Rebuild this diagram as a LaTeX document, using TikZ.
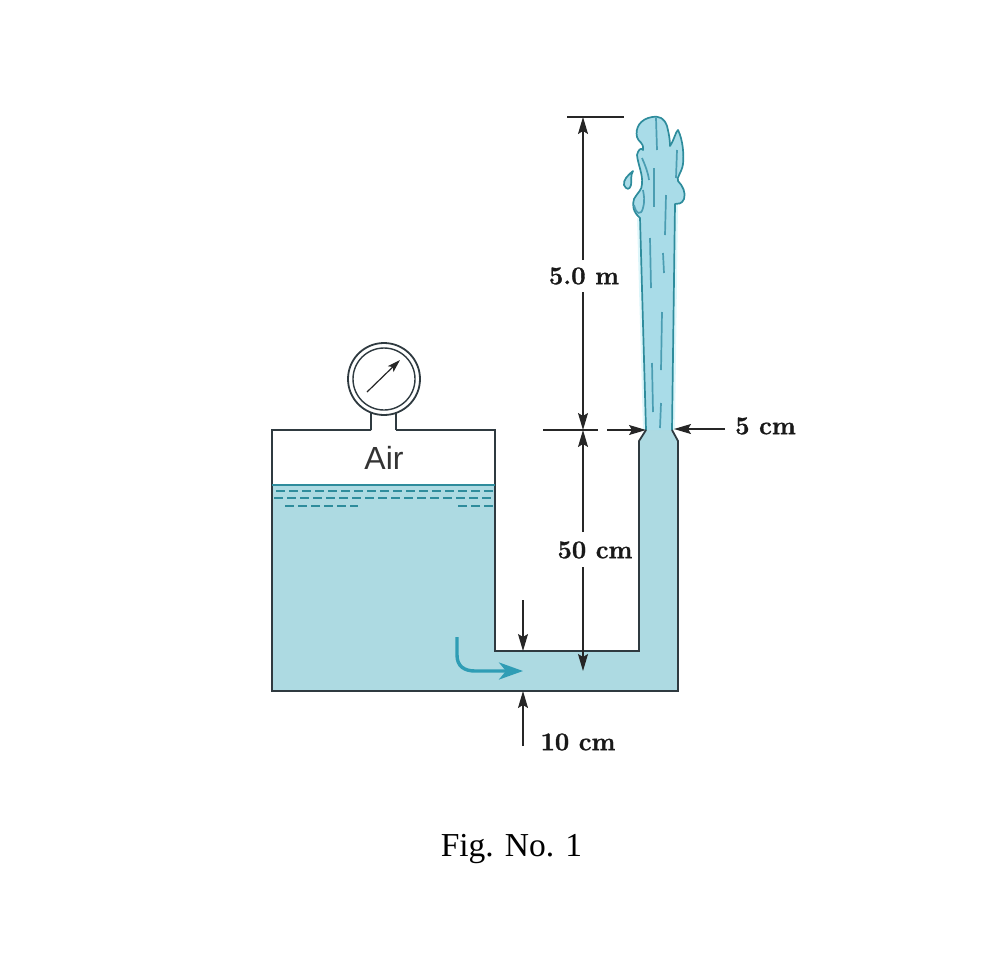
\documentclass[tikz,border=0pt]{standalone}
\usepackage{fontspec}
\newfontfamily\figfont{Liberation Serif}
\newfontfamily\airfont{Liberation Sans}
\newfontfamily\dimfont[BoldFeatures={FakeBold=1.2}]{Latin Modern Roman}
\usetikzlibrary{arrows.meta}
\definecolor{water}{HTML}{ADDAE2}
\definecolor{jetwater}{HTML}{A9DCE8}
\definecolor{jetglow}{HTML}{DDF6FA}
\definecolor{wall}{HTML}{2F3A40}
\definecolor{teal}{HTML}{2F9DB5}
\definecolor{streak}{HTML}{4A9DB2}
\definecolor{surface}{HTML}{2E8C9C}
\tikzset{
  wallline/.style={draw=wall,line width=1.8pt},
  dimline/.style={draw=black!85,line width=1.2pt},
  dimarrow/.style={dimline,-{Stealth[length=17pt,width=10pt,inset=3pt]}},
  dimlabel/.style={font=\dimfont\fontsize{25.5}{26}\selectfont\bfseries,inner sep=0pt,text=black!90},
  jetline/.style={draw=surface,line width=1.7pt,line join=round},
  streakline/.style={draw=streak,line width=1.7pt},
  dashrow/.style={draw=surface,line width=1.6pt,dash pattern=on 9pt off 4pt}
}
\begin{document}
\begin{tikzpicture}[x=1pt,y=-1pt]
\useasboundingbox (0,0) rectangle (990,970);
% coordinates
\coordinate (tankTL) at (272,430);
\coordinate (tankTR) at (495,430);
\coordinate (neckL) at (371,430);
\coordinate (neckR) at (396,430);
\coordinate (levelL) at (272,485);
\coordinate (levelR) at (495,485);
\coordinate (tankBL) at (272,691);
\coordinate (pipeBR) at (678,691);
\coordinate (innerBL) at (495,651);
\coordinate (innerBR) at (639,651);
\coordinate (shoulderL) at (639,441);
\coordinate (shoulderR) at (678,441);
\coordinate (nozzleL) at (646,430);
\coordinate (nozzleR) at (672,430);
% water body
\fill[water] (levelL) -- (levelR) -- (innerBL) -- (innerBR) -- (shoulderL) -- (nozzleL) -- (nozzleR) -- (shoulderR) -- (pipeBR) -- (tankBL) -- cycle;
% jet glow
\draw[jetglow,line width=6pt,line join=round] (nozzleL) -- (640,218) (675,204) -- (nozzleR);
% jet
\path[fill=jetwater,jetline] (nozzleL)
  -- (640,218) .. controls (633,212) and (632,205) .. (634,199)
  .. controls (638,192) and (642,190) .. (642,184)
  .. controls (643,174) and (638,165) .. (637,155)
  .. controls (638,150) and (641,147) .. (643,150)
  .. controls (644,142) and (638,142) .. (637,137)
  .. controls (635,128) and (640,119) .. (652,117)
  .. controls (660,116) and (664,118) .. (667,126)
  .. controls (669,134) and (670,140) .. (670,146)
  .. controls (674,140) and (676,131) .. (678,130)
  .. controls (683,140) and (684,155) .. (683,164)
  .. controls (682,172) and (676,178) .. (678,181)
  .. controls (683,186) and (686,193) .. (684,199)
  .. controls (682,204) and (678,204) .. (675,204)
  -- (nozzleR);
\path[fill=jetwater,jetline] (633,171) .. controls (628,175) and (623,180) .. (624,185)
  .. controls (626,190) and (630,190) .. (631,185)
  .. controls (632,180) and (630,176) .. (633,171) -- cycle;
% jet streaks and lobes
\draw[streakline] (656,118) -- (657,150);
\draw[streakline] (654,168) -- (654,207);
\draw[streakline] (666,195) -- (665,235);
\draw[streakline] (650,238) -- (651,288);
\draw[streakline] (663,253) -- (664,273);
\draw[streakline] (662,312) -- (661,370);
\draw[streakline] (652,363) -- (653,412);
\draw[streakline] (661,403) -- (660,428);
\draw[streakline] (642,158) .. controls (645,165) and (648,172) .. (649,180);
\draw[streakline] (634,205) .. controls (636,214) and (641,216) .. (643,208) .. controls (645,200) and (644,196) .. (643,190);
\draw[streakline] (676,178) -- (677,150);
% tank and pipe walls
\draw[wallline] (neckL) -- (tankTL) -- (tankBL) -- (pipeBR) -- (shoulderR) -- (nozzleR);
\draw[wallline] (neckR) -- (tankTR) -- (innerBL) -- (innerBR) -- (shoulderL) -- (nozzleL);
% surface
\draw[draw=surface,line width=2.6pt] (levelL) -- (levelR);
\draw[dashrow] (276,491) -- (493,491);
\draw[dashrow] (274,498) -- (493,498);
\draw[dashrow] (285,506) -- (358,506);
\draw[dashrow] (458,506) -- (493,506);
% gauge
\coordinate (gaugeC) at (384,379);
\draw[wallline] (neckL) -- (371,405);
\draw[wallline] (neckR) -- (396,405);
\node[circle,draw=wall,line width=1.8pt,fill=white,minimum size=72pt,inner sep=0pt] (gaugeO) at (gaugeC) {};
\node[circle,draw=wall,line width=1.4pt,minimum size=62pt,inner sep=0pt] (gaugeI) at (gaugeC) {};
\coordinate (needleA) at (367,392);
\coordinate (needleB) at (400,360);
\draw[dimline,-{Stealth[length=13pt,width=8pt,inset=3pt]}] (needleA) -- (needleB);
% labels
\node[font=\airfont\fontsize{32}{32}\selectfont,text=black!80,inner sep=0pt] (air) at (384,458) {Air};
\node[dimlabel] (lab5m) at (584,276) {5.0 m};
\node[dimlabel] (lab50) at (595,550) {50 cm};
\node[dimlabel] (lab5cm) at (765.5,426) {5 cm};
\node[dimlabel] (lab10) at (578,742) {10 cm};
\node[font=\figfont\fontsize{33.5}{35}\selectfont,inner sep=0pt] (fig) at (511.5,849) {Fig. No. 1};
% dimensions: 5.0 m
\coordinate (topA) at (567,117);
\coordinate (topB) at (624,117);
\coordinate (top) at (583,117);
\coordinate (mid) at (583,430);
\draw[dimline] (topA) -- (topB);
\draw[dimarrow] (583,260) -- (top);
\draw[dimarrow] (583,292) -- (mid);
% extension at nozzle
\coordinate (extA) at (543,430);
\coordinate (extB) at (598,430);
\draw[dimline] (extA) -- (extB);
\coordinate (w1s) at (607,430);
\coordinate (w1e) at (646,430);
\draw[dimarrow] (w1s) -- (w1e);
\coordinate (w2s) at (725,429);
\coordinate (w2e) at (674,429);
\draw[dimarrow] (w2s) -- (w2e);
% 50 cm
\coordinate (b50) at (583,671);
\draw[dimarrow] (583,532) -- (mid);
\draw[dimarrow] (583,567) -- (b50);
% 10 cm
\coordinate (t10s) at (523,600);
\coordinate (t10e) at (523,651);
\coordinate (b10s) at (523,746);
\coordinate (b10e) at (523,691);
\draw[dimarrow] (t10s) -- (t10e);
\draw[dimarrow] (b10s) -- (b10e);
% flow arrow
\coordinate (flowA) at (457,637);
\coordinate (flowB) at (523,671);
\draw[draw=teal,line width=3.4pt,-{Stealth[length=24pt,width=17pt,inset=7pt]}] (flowA) -- (457,655) .. controls (457,666) and (464,671) .. (475,671) -- (flowB);
\end{tikzpicture}
\end{document}
